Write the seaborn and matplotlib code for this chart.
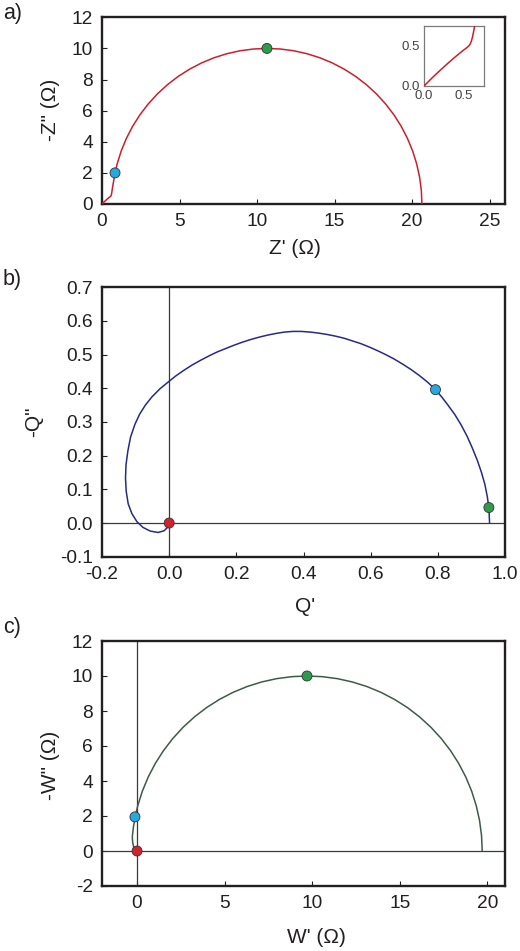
import numpy as np
import pandas as pd
import matplotlib
matplotlib.use("Agg")
import matplotlib.pyplot as plt
import seaborn as sns

# ---------------- data ----------------
# Panel a: Z' vs -Z'' (Ohm)
z_re = [0.00, 0.10, 0.20, 0.30, 0.38, 0.44, 0.49, 0.53, 0.56, 0.58, 0.595,
        0.608, 0.620, 0.633, 0.655, 0.685, 0.737, 0.841, 0.981, 1.243, 1.577,
        1.980, 2.449, 2.980, 3.569, 4.212, 4.904, 5.640, 6.414, 7.220, 8.052,
        8.904, 9.768, 10.640, 11.512, 12.377, 13.228, 14.060, 14.866, 15.640,
        16.376, 17.068, 17.711, 18.300, 18.831, 19.300, 19.703, 20.037, 20.299,
        20.488, 20.602, 20.640]
z_im = [0.00, 0.10, 0.195, 0.285, 0.355, 0.405, 0.445, 0.475, 0.500, 0.530, 0.570,
        0.620, 0.680, 0.750, 0.900, 1.100, 1.392, 1.994, 2.588, 3.420, 4.226,
        5.000, 5.736, 6.428, 7.071, 7.660, 8.192, 8.660, 9.063, 9.397, 9.659,
        9.848, 9.962, 10.000, 9.962, 9.848, 9.659, 9.397, 9.063, 8.660,
        8.192, 7.660, 7.071, 6.428, 5.736, 5.000, 4.226, 3.420, 2.588,
        1.736, 0.872, 0.000]
a_pt_x = [0.84, 10.64]
a_pt_y = [2.00, 10.00]
a_pt_kind = ["blue", "green"]

# Panel b: Q' vs -Q''
q_re = [0.954, 0.953, 0.952, 0.947, 0.940, 0.930, 0.918, 0.903, 0.887, 0.869,
        0.850, 0.828, 0.811, 0.793, 0.770, 0.745, 0.720, 0.695, 0.670, 0.645,
        0.620, 0.595, 0.570, 0.545, 0.520, 0.495, 0.470, 0.445, 0.420, 0.393,
        0.368, 0.343, 0.318, 0.293, 0.268, 0.243, 0.218, 0.193, 0.168, 0.143,
        0.118, 0.093, 0.068, 0.043, 0.020, 0.000, -0.027, -0.051, -0.071,
        -0.088, -0.102, -0.115, -0.123, -0.1285, -0.130, -0.128, -0.122,
        -0.111, -0.096, -0.078, -0.056, -0.033, -0.015, -0.005, 0.000]
q_im = [0.000, 0.025, 0.046, 0.080, 0.115, 0.150, 0.185, 0.222, 0.258, 0.292,
        0.323, 0.353, 0.375, 0.396, 0.418, 0.438, 0.456, 0.472, 0.487, 0.500,
        0.512, 0.523, 0.533, 0.541, 0.549, 0.555, 0.560, 0.564, 0.567, 0.569,
        0.569, 0.567, 0.563, 0.558, 0.552, 0.545, 0.537, 0.528, 0.518, 0.508,
        0.496, 0.483, 0.469, 0.453, 0.437, 0.421, 0.399, 0.375, 0.350,
        0.323, 0.293, 0.255, 0.214, 0.173, 0.134, 0.095, 0.057,
        0.028, 0.004, -0.013, -0.024, -0.028, -0.023, -0.013, 0.000]
b_pt_x = [0.000, 0.793, 0.952]
b_pt_y = [0.000, 0.396, 0.046]
b_pt_kind = ["red", "blue", "green"]

# Panel c: W' vs -W'' (Ohm)
w_re = [0.00, -0.12, -0.20, -0.25, -0.27, -0.245, -0.203, -0.099, 0.041, 0.303,
        0.637, 1.040, 1.509, 2.040, 2.629, 3.272, 3.964, 4.700, 5.474, 6.280,
        7.112, 7.964, 8.828, 9.700, 10.572, 11.437, 12.288, 13.120, 13.926,
        14.700, 15.436, 16.128, 16.771, 17.360, 17.891, 18.360, 18.763, 19.097,
        19.359, 19.548, 19.662, 19.700]
w_im = [0.00, 0.10, 0.25, 0.50, 0.80, 1.045, 1.392, 1.994, 2.588, 3.420,
        4.226, 5.000, 5.736, 6.428, 7.071, 7.660, 8.192, 8.660, 9.063, 9.397,
        9.659, 9.848, 9.962, 10.000, 9.962, 9.848, 9.659, 9.397, 9.063,
        8.660, 8.192, 7.660, 7.071, 6.428, 5.736, 5.000, 4.226, 3.420,
        2.588, 1.736, 0.872, 0.000]
c_pt_x = [0.00, -0.12, 9.70]
c_pt_y = [0.00, 1.95, 10.00]
c_pt_kind = ["red", "blue", "green"]

# tick labels
a_xticks = [0, 5, 10, 15, 20, 25]
a_yticks = [0, 2, 4, 6, 8, 10, 12]
inset_ticks = [0.0, 0.5]
b_xticks = [-0.2, 0.0, 0.2, 0.4, 0.6, 0.8, 1.0]
b_yticks = [-0.1, 0.0, 0.1, 0.2, 0.3, 0.4, 0.5, 0.6, 0.7]
c_xticks = [0, 5, 10, 15, 20]
c_yticks = [-2, 0, 2, 4, 6, 8, 10, 12]

# ---------------- style ----------------
sns.set_style("white")
plt.rcParams["font.family"] = ["Liberation Sans", "DejaVu Sans"]
plt.rcParams["axes.unicode_minus"] = False
TXT = "#231f20"
plt.rcParams["text.color"] = TXT
plt.rcParams["axes.labelcolor"] = TXT
plt.rcParams["xtick.color"] = TXT
plt.rcParams["ytick.color"] = TXT

dot_pal = {"red": "#d2232a", "blue": "#27a8e0", "green": "#2e9b4c"}
TICK_FS = 13.8
LAB_FS = 15

W, H = 520, 951
fig = plt.figure(figsize=(W / 100, H / 100), dpi=100)


def make_ax(left, top, right, bottom):
    return fig.add_axes([left / W, 1 - bottom / H, (right - left) / W, (bottom - top) / H])


def style_ax(ax):
    for sp in ax.spines.values():
        sp.set_linewidth(1.7)
        sp.set_color(TXT)
    ax.tick_params(direction="in", length=3.5, width=0.8, labelsize=TICK_FS,
                   top=False, right=False, bottom=True, left=True, pad=6.5)


def curve(ax, xs, ys, color):
    df = pd.DataFrame({"x": xs, "y": ys})
    sns.lineplot(data=df, x="x", y="y", sort=False, estimator=None, color=color,
                 linewidth=1.1, ax=ax, zorder=3)


def dots(ax, xs, ys, kinds):
    df = pd.DataFrame({"x": xs, "y": ys, "k": kinds})
    sns.scatterplot(data=df, x="x", y="y", hue="k", palette=dot_pal, s=52,
                    edgecolor="#333333", linewidth=0.6, legend=False, ax=ax,
                    zorder=5, clip_on=False)


# ---------------- panel a ----------------
axa = make_ax(102, 17.3, 505, 204)
curve(axa, z_re, z_im, "#c8202f")
dots(axa, a_pt_x, a_pt_y, a_pt_kind)
axa.set_xlim(0, 26)
axa.set_ylim(0, 12)
axa.set_xticks(a_xticks)
axa.set_yticks(a_yticks)
style_ax(axa)
axa.set_xlabel("Z' (\u03a9)", fontsize=LAB_FS)
axa.set_ylabel('-Z" (\u03a9)', fontsize=LAB_FS)
axa.xaxis.set_label_coords(0.479, -0.185)
axa.yaxis.set_label_coords(-0.104, 0.503)

# inset
axi = make_ax(424, 26, 484, 86)
curve(axi, z_re, z_im, "#c8202f")
axi.set_xlim(0, 0.75)
axi.set_ylim(0, 0.75)
axi.set_xticks(inset_ticks)
axi.set_yticks(inset_ticks)
axi.set_xticklabels(["0.0", "0.5"])
axi.set_yticklabels(["0.0", "0.5"])
for sp in axi.spines.values():
    sp.set_linewidth(0.9)
    sp.set_color("#7a7a7a")
axi.tick_params(direction="in", length=2.5, width=0.7, labelsize=9.5,
                colors="#444444", pad=3)
axi.set_xlabel("")
axi.set_ylabel("")

# ---------------- panel b ----------------
axb = make_ax(102, 287.3, 505, 556.7)
axb.axhline(0, color="#3a3a3a", lw=0.9, zorder=1)
axb.axvline(0, color="#3a3a3a", lw=0.9, zorder=1)
curve(axb, q_re, q_im, "#262b83")
dots(axb, b_pt_x, b_pt_y, b_pt_kind)
axb.set_xlim(-0.2, 1.0)
axb.set_ylim(-0.1, 0.7)
axb.set_xticks(b_xticks)
axb.set_yticks(b_yticks)
axb.set_xticklabels([f"{v:.1f}" for v in b_xticks])
axb.set_yticklabels([f"{v:.1f}" for v in b_yticks])
style_ax(axb)
axb.set_xlabel("Q'", fontsize=LAB_FS)
axb.set_ylabel('-Q"', fontsize=LAB_FS)
axb.xaxis.set_label_coords(0.504, -0.148)
axb.yaxis.set_label_coords(-0.146, 0.501)

# ---------------- panel c ----------------
axc = make_ax(102, 641, 505, 886)
axc.axhline(0, color="#3a3a3a", lw=0.9, zorder=1)
axc.axvline(0, color="#3a3a3a", lw=0.9, zorder=1)
curve(axc, w_re, w_im, "#3f5b48")
dots(axc, c_pt_x, c_pt_y, c_pt_kind)
axc.set_xlim(-2, 21)
axc.set_ylim(-2, 12)
axc.set_xticks(c_xticks)
axc.set_yticks(c_yticks)
style_ax(axc)
axc.set_xlabel("W' (\u03a9)", fontsize=LAB_FS)
axc.set_ylabel('-W" (\u03a9)', fontsize=LAB_FS)
axc.xaxis.set_label_coords(0.533, -0.171)
axc.yaxis.set_label_coords(-0.104, 0.494)

# panel letters
for lab, y in [("a)", 13), ("b)", 280), ("c)", 628)]:
    fig.text(3 / W, 1 - y / H, lab, fontsize=15.5, ha="left", va="center")

fig.savefig("out.png", dpi=100, facecolor="white")
